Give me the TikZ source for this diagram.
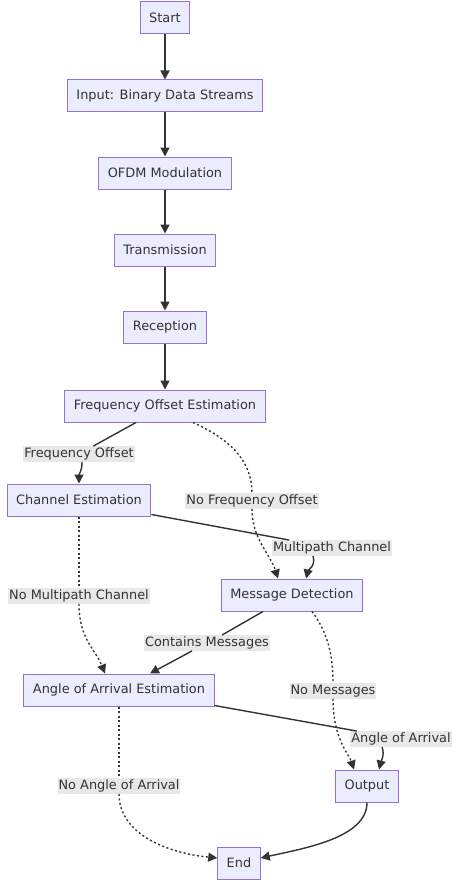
\documentclass[tikz,border=0pt]{standalone}
\usepackage{fontspec}
\setmainfont{DejaVu Sans}
\usetikzlibrary{arrows.meta}
\definecolor{boxfill}{HTML}{ECECFF}
\definecolor{boxline}{HTML}{9370DB}
\definecolor{edgecol}{HTML}{333333}
\definecolor{labfill}{HTML}{E8E8E8}

\begin{document}
\begin{tikzpicture}[x=1pt,y=-1pt,
    box/.style={draw=boxline,fill=boxfill,line width=1pt,text=edgecol,inner xsep=9pt,minimum height=32pt,font=\fontsize{12.9}{15}\selectfont},
    lab/.style={fill=labfill,text=edgecol,inner xsep=1pt,inner ysep=1.5pt,font=\fontsize{12.9}{15}\selectfont},
    flow/.style={draw=edgecol,line width=1.4pt},
    arr/.style={flow,-{Triangle[length=9pt,width=9pt]}},
    dots/.style={flow,dash pattern=on 2pt off 2.5pt},
    dotarr/.style={dots,-{Triangle[length=9pt,width=9pt]}}]
    \useasboundingbox (0,0) rectangle (474,888);
    \node[box] (start) at (165,18) {Start};
    \node[box] (input) at (165,96) {Input: Binary Data Streams};
    \node[box] (ofdm) at (165,173) {OFDM Modulation};
    \node[box] (trans) at (165,250) {Transmission};
    \node[box] (recep) at (165,327) {Reception};
    \node[box] (foe) at (165,406) {Frequency Offset Estimation};
    \node[box] (chest) at (79,500) {Channel Estimation};
    \node[box] (msgdet) at (292,595) {Message Detection};
    \node[box] (aoa) at (119,690) {Angle of Arrival Estimation};
    \node[box] (output) at (367,786) {Output};
    \node[box] (theend) at (239,863) {End};

    \node[lab] (lfreq) at (79,454) {Frequency Offset};
    \node[lab] (lnofreq) at (252,501) {No Frequency Offset};
    \node[lab] (lmulti) at (332,548) {Multipath Channel};
    \node[lab] (lnomulti) at (79,596) {No Multipath Channel};
    \node[lab] (lcont) at (207,643) {Contains Messages};
    \node[lab] (lnomsg) at (333,691) {No Messages};
    \node[lab] (langle) at (401,739) {Angle of Arrival};
    \node[lab] (lnoangle) at (119,786) {No Angle of Arrival};

    \foreach \a/\b in {start/input,input/ofdm,ofdm/trans,trans/recep,recep/foe}
        \draw[arr] (\a) -- (\b);

    \draw[flow] ([xshift=-29pt]foe.south) -- (lfreq);
    \draw[arr] ([xshift=3pt]lfreq.south) .. controls +(0,10) and +(0,-10) .. (chest.north);
    \draw[dots] ([xshift=28pt]foe.south) .. controls +(40,18) and +(0,-30) .. (lnofreq.north);
    \draw[dotarr] (lnofreq.south) .. controls +(0,30) and +(-8,-25) .. ([xshift=-14pt]msgdet.north);

    \draw[flow] ([yshift=2pt]chest.south east) -- (lmulti);
    \draw[arr] ([xshift=-19pt]lmulti.south) .. controls +(3,10) and +(2,-8) .. ([xshift=14pt]msgdet.north);
    \draw[dots] (chest.south) -- (lnomulti.north);
    \draw[dotarr] (lnomulti.south) .. controls +(0,35) and +(-10,-25) .. ([xshift=-14pt]aoa.north);

    \draw[flow] ([xshift=-29pt]msgdet.south) -- ([xshift=15pt]lcont.north);
    \draw[arr] ([xshift=-15pt]lcont.south) -- ([xshift=31pt]aoa.north);
    \draw[dots] ([xshift=20pt]msgdet.south) .. controls +(15,20) and +(0,-30) .. (lnomsg.north);
    \draw[dotarr] (lnomsg.south) .. controls +(0,40) and +(-5,-15) .. ([xshift=-13pt]output.north);

    \draw[flow] ([yshift=1pt]aoa.south east) -- (langle);
    \draw[arr] ([xshift=-19pt]langle.south) .. controls +(3,8) and +(2,-8) .. ([xshift=12pt]output.north);
    \draw[dots] (aoa.south) -- (lnoangle.north);
    \draw[dotarr] (lnoangle.south) .. controls +(0,40) and +(-50,-5) .. ([yshift=5pt]theend.west);
    \draw[arr] (output.south) .. controls +(0,35) and +(45,-10) .. ([yshift=5pt]theend.east);
\end{tikzpicture}
\end{document}
